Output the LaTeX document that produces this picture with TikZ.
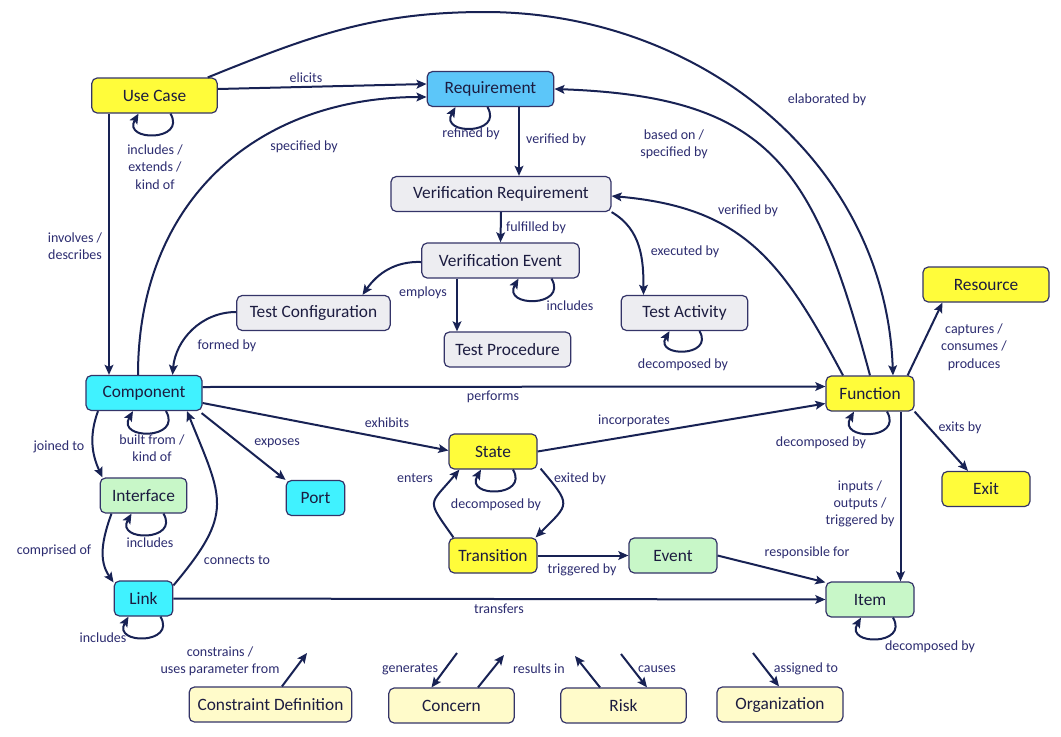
\documentclass[tikz,border=0pt]{standalone}
\usepackage{fontspec}
\setmainfont{Carlito}
\usetikzlibrary{arrows.meta, calc}

\definecolor{relline}{RGB}{24,34,84}
\definecolor{lbltext}{RGB}{44,44,112}
\definecolor{nodetext}{RGB}{28,28,64}
\definecolor{boxline}{RGB}{52,52,104}
\definecolor{funcyellow}{RGB}{255,252,58}
\definecolor{reqblue}{RGB}{92,198,249}
\definecolor{verifgray}{RGB}{237,237,241}
\definecolor{physcyan}{RGB}{64,242,255}
\definecolor{flowgreen}{RGB}{200,247,200}
\definecolor{mgmtyellow}{RGB}{255,251,202}

\begin{document}
\begin{tikzpicture}[
    x=0.75pt, y=-0.75pt,
    % Block Styles
    box/.style={rectangle, draw=boxline, line width=0.9pt, rounded corners=4pt, minimum height=26.25pt, inner sep=2pt, text=nodetext, font=\fontsize{13}{15}\selectfont},
    func/.style={box, fill=funcyellow},
    reqbox/.style={box, fill=reqblue},
    verif/.style={box, fill=verifgray},
    phys/.style={box, fill=physcyan},
    flow/.style={box, fill=flowgreen},
    mgmt/.style={box, fill=mgmtyellow},
    % Line & Label Styles
    rel/.style={draw=relline, line width=1.5pt, -{Stealth[length=7.5pt, width=6.5pt, inset=1.5pt]}},
    lbl/.style={font=\fontsize{10.5}{13}\selectfont, text=lbltext, align=center, inner sep=0pt},
    loopto/.style={out=-60, in=-120, looseness=2.6}
]
    \path[use as bounding box, fill=white] (0,0) rectangle (1061,736);

    % Nodes
    \node [func, minimum width=94pt] (usecase) at (154.5,95.5) {Use Case};
    \node [reqbox, minimum width=95pt] (req) at (490.5,89) {Requirement};
    \node [verif, minimum width=165pt] (vreq) at (501,194) {Verification Requirement};
    \node [verif, minimum width=118pt] (vevent) at (500.5,260.5) {Verification Event};
    \node [verif, minimum width=115pt] (tconf) at (313.5,313) {Test Configuration};
    \node [verif, minimum width=95pt] (tproc) at (507.5,349.5) {Test Procedure};
    \node [verif, minimum width=95pt] (tact) at (684.5,313) {Test Activity};
    \node [func, minimum width=94.5pt] (resource) at (986,284.5) {Resource};
    \node [func, minimum width=66pt] (function) at (870,393.5) {Function};
    \node [phys, minimum width=87pt] (comp) at (144,393) {Component};
    \node [flow, minimum width=65pt] (intf) at (143.5,495.5) {Interface};
    \node [phys, minimum width=44pt] (port) at (315.5,498) {Port};
    \node [func, minimum width=66pt] (state) at (493,451.5) {State};
    \node [func, minimum width=66pt] (trans) at (493,555.5) {Transition};
    \node [flow, minimum width=66pt] (event) at (673,555.5) {Event};
    \node [flow, minimum width=66pt] (item) at (870,599.5) {Item};
    \node [func, minimum width=66pt] (exit) at (986,489) {Exit};
    \node [phys, minimum width=44pt] (link) at (143.5,598.5) {Link};
    \node [mgmt, minimum width=122pt] (cdef) at (270.5,704.5) {Constraint Definition};
    \node [mgmt, minimum width=94pt] (concern) at (451.5,705.5) {Concern};
    \node [mgmt, minimum width=94pt] (risk) at (623.5,705.5) {Risk};
    \node [mgmt, minimum width=94.5pt] (org) at (780,704.5) {Organization};

    % Free ends of the bottom connectors
    \coordinate (cdefto) at (307,653);
    \coordinate (genfrom) at (457,653);
    \coordinate (resto) at (504,655);
    \coordinate (riskto) at (575,656);
    \coordinate (causefrom) at (621,654);
    \coordinate (assignfrom) at (753,653);

    % Use Case
    \draw [rel] ($(usecase.east)+(0,-6.5)$) -- ($(req.west)+(0,-5)$) node[lbl] at (306,78) {elicits};
    \draw [rel] ($(usecase.north east)+(-10,0)$) to[out=22,in=180] (485,12) to[out=0,in=92,looseness=1.0] ($(function.north)+(23,0)$) node[lbl] at (827,100) {elaborated by};
    \draw [rel] ($(usecase.south)+(16,0)$) to[loopto] ($(usecase.south)+(-16,0)$) node[lbl] at (155,167) {includes /\\extends /\\kind of};
    \draw [rel] ($(usecase.south)+(-45.5,0)$) -- ($(comp.north)+(-35,0)$) node[lbl] at (75,246) {involves /\\describes};

    % Requirement side
    \draw [rel] ($(comp.north)+(-6,0)$) to[out=90,in=180,looseness=1.1] ($(req.west)+(0,8)$) node[lbl] at (304,147) {specified by};
    \draw [rel] ($(req.south)+(-3,0)$) to[loopto] ($(req.south)+(-35,0)$) node[lbl] at (471,134) {refined by};
    \draw [rel] ($(req.south)+(28.5,0)$) -- ($(vreq.north)+(18,0)$) node[lbl] at (556,140) {verified by};
    \draw [rel] (function.north) to[out=105,in=-2,looseness=1.3] (req.east) node[lbl] at (674,144) {based on /\\specified by};
    \draw [rel] ($(function.north)+(-27,0)$) to[out=118,in=-5,looseness=1.15] ($(vreq.east)+(0,2)$) node[lbl] at (748,211) {verified by};

    % Verification
    \draw [rel] (vreq.south) -- (vevent.north) node[lbl] at (536,228) {fulfilled by};
    \draw [rel] (vreq.south east) to[out=-30,in=90] ($(tact.north)+(-41,0)$) node[lbl] at (685,252) {executed by};
    \draw [rel] ($(vevent.west)+(0,1.5)$) to[out=178,in=55] ($(tconf.north)+(49,0)$);
    \draw [rel] ($(vevent.south)+(-43.5,0)$) -- ($(tproc.north)+(-50.5,0)$) node[lbl] at (423,293) {employs};
    \draw [rel] ($(vevent.south)+(51,0)$) to[loopto] ($(vevent.south)+(18,0)$) node[lbl] at (570,306) {includes};
    \draw [rel] ($(tconf.west)+(0,-1)$) to[out=180,in=85] ($(comp.north)+(28.5,0)$) node[lbl] at (227,346) {formed by};
    \draw [rel] ($(tact.south)+(15,0)$) to[loopto] ($(tact.south)+(-15,0)$) node[lbl] at (683,365) {decomposed by};

    % Function
    \draw [rel] ($(function.north east)+(-7,0)$) -- ($(resource.south west)+(20,0)$) node[lbl] at (974,347) {captures /\\consumes /\\produces};
    \draw [rel] ($(function.south)+(17,0)$) to[loopto] ($(function.south)+(-16,0)$) node[lbl] at (821,443) {decomposed by};
    \draw [rel] (function.south east) -- ($(exit.north)+(-18,0)$) node[lbl] at (960,428) {exits by};
    \draw [rel] ($(function.south)+(30.5,0)$) -- ($(item.north)+(30.5,0)$) node[lbl] at (860,504) {inputs /\\outputs /\\triggered by};

    % Component
    \draw [rel] ($(comp.east)+(0,-6)$) -- ($(function.west)+(0,-7)$) node[lbl] at (493,397) {performs};
    \draw [rel] ($(comp.east)+(0,10)$) -- ($(state.west)+(0,-1)$) node[lbl] at (387,423) {exhibits};
    \draw [rel] (state.east) -- ($(function.west)+(0,10)$) node[lbl] at (634,421) {incorporates};
    \draw [rel] ($(comp.south)+(22,0)$) to[loopto] ($(comp.south)+(-11,0)$) node[lbl] at (152,448) {built from /\\kind of};
    \draw [rel] ($(comp.south east)+(-1,2)$) -- (port.north west) node[lbl] at (277,443) {exposes};
    \draw [rel] ($(comp.south)+(-46,0)$) to[out=-110,in=115] ($(intf.north)+(-41,0)$) node[lbl] at (59,447) {joined to};

    % Interface and Link
    \draw [rel] ($(intf.south)+(20,0)$) to[loopto] ($(intf.south)+(-12,0)$) node[lbl] at (150,543) {includes};
    \draw [rel] ($(intf.south)+(-32,0)$) to[out=-110,in=125] ($(link.north west)+(0,2)$) node[lbl] at (54,551) {comprised of};
    \draw [rel] ($(link.north east)+(0,5)$) to[out=50,in=-68,looseness=1.4] ($(comp.south)+(43,0)$) node[lbl] at (237,560) {connects to};
    \draw [rel] ($(link.south)+(17,0)$) to[loopto] ($(link.south)+(-15,0)$) node[lbl] at (103,638) {includes};
    \draw [rel] (link.east) -- (item.west) node[lbl] at (499,609) {transfers};

    % State and Transition
    \draw [rel] ($(state.south)+(20,0)$) to[loopto] ($(state.south)+(-12,0)$) node[lbl] at (496,505) {decomposed by};
    \draw [rel] ($(trans.north west)+(5,0)$) to[out=125,in=-130,looseness=1.8] ($(state.south west)+(11,0)$) node[lbl] at (415,478) {enters};
    \draw [rel] ($(state.south east)+(3,-1)$) to[out=-50,in=45,looseness=1.8] ($(trans.north east)+(-2,0)$) node[lbl] at (580,479) {exited by};
    \draw [rel] (trans.east) -- (event.west) node[lbl] at (582,570) {triggered by};
    \draw [rel] (event.east) -- ($(item.north west)+(0,1)$) node[lbl] at (807,553) {responsible for};
    \draw [rel] ($(item.south)+(23,0)$) to[loopto] ($(item.south)+(-9,0)$) node[lbl] at (930,647) {decomposed by};

    % Bottom row
    \draw [rel] ($(cdef.north)+(11.5,0)$) -- (cdefto) node[lbl] at (220,661) {constrains /\\uses parameter from};
    \draw [rel] (genfrom) -- ($(concern.north)+(-20,0)$) node[lbl] at (410,669) {generates};
    \draw [rel] ($(concern.north)+(26.5,0)$) -- (resto) node[lbl] at (539,669) {results in};
    \draw [rel] ($(risk.north)+(-23.5,0)$) -- (riskto);
    \draw [rel] (causefrom) -- ($(risk.north)+(23.5,0)$) node[lbl] at (657,669) {causes};
    \draw [rel] (assignfrom) -- ($(org.north)+(-1,0)$) node[lbl] at (806,669) {assigned to};

\end{tikzpicture}
\end{document}
